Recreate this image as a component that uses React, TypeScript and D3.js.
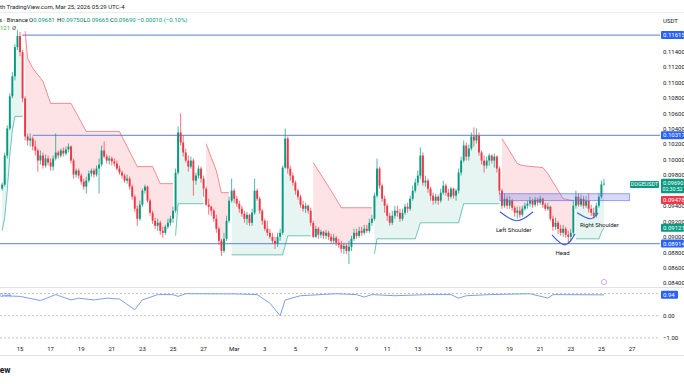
import React from "react";
import * as d3 from "d3";

const W = 684;
const H = 384;
const FONT = "Roboto, 'Noto Sans', 'DejaVu Sans', sans-serif";

// ---------------- data ----------------
// 4h DOGEUSDT candles, prices in 1e-5 USDT
const START_UTC = Date.UTC(2026, 1, 13, 20);
const STEP_MS = 4 * 3600 * 1000;
const OPEN0_E5 = 9626;
const CLOSE_E5 = [
  9678, 10055, 10406, 10822, 11082, 11459, 11602, 11394, 10796, 10302,
  10250, 10276, 10172, 10120, 9990, 10055, 9925, 10016, 9964, 9912,
  10016, 10094, 10055, 10120, 10081, 10133, 10172, 9990, 9808, 9860,
  9795, 9717, 9652, 9730, 9821, 9860, 9808, 9886, 9938, 10120,
  10042, 9990, 10016, 9977, 9951, 9886, 9834, 9795, 9730, 9756,
  9652, 9522, 9366, 9236, 9418, 9600, 9652, 9470, 9314, 9210,
  9145, 9184, 9080, 9054, 9132, 9184, 9236, 9340, 9834, 10354,
  10224, 10094, 9990, 9912, 9990, 9730, 9795, 9886, 9756, 9626,
  9418, 9392, 9340, 9236, 9106, 8950, 8820, 8976, 9210, 9470,
  9600, 9496, 9431, 9366, 9301, 9236, 9288, 9184, 9314, 9600,
  9496, 9340, 9210, 9106, 9054, 9002, 8950, 8911, 9002, 9054,
  9899, 10276, 9886, 9795, 9704, 9600, 9522, 9418, 9366, 9405,
  9340, 9184, 9002, 9106, 9028, 9067, 9015, 9054, 9002, 8950,
  8989, 8924, 8898, 8846, 8885, 8820, 8872, 8976, 9054, 9015,
  9080, 9054, 9106, 9080, 9184, 9236, 9535, 9886, 9665, 9496,
  9405, 9275, 9184, 9275, 9340, 9314, 9236, 9314, 9392, 9366,
  9496, 9600, 9704, 9795, 10055, 9704, 9730, 9626, 9535, 9470,
  9522, 9470, 9574, 9665, 9574, 9522, 9626, 9535, 9600, 9834,
  9990, 10185, 10042, 10146, 10302, 10250, 10315, 10094, 9990, 9925,
  9990, 10055, 9990, 10042, 9886, 9600, 9405, 9496, 9405, 9470,
  9379, 9314, 9340, 9288, 9366, 9405, 9431, 9470, 9418, 9483,
  9444, 9496, 9418, 9366, 9392, 9236, 9132, 9184, 9106, 9054,
  9106, 9028, 9002, 9054, 9405, 9522, 9418, 9496, 9405, 9470,
  9366, 9314, 9275, 9405, 9522, 9681, 9690,
];
const HIGH_E5 = [
  9704, 10094, 10445, 10861, 11134, 11498, 11680, 11654, 11420, 10822,
  10341, 10341, 10302, 10250, 10146, 10120, 10094, 10068, 10055, 10016,
  10055, 10341, 10120, 10146, 10159, 10172, 10211, 10185, 10016, 9886,
  9886, 9821, 9756, 9782, 9860, 9886, 9886, 9925, 10016, 10185,
  10237, 10068, 10055, 10042, 10016, 9990, 9925, 9860, 9821, 9808,
  9782, 9678, 9548, 9405, 9470, 9626, 9678, 9665, 9496, 9340,
  9249, 9236, 9210, 9132, 9158, 9236, 9275, 9392, 9886, 10432,
  10601, 10315, 10146, 10055, 10042, 10016, 9834, 9925, 9912, 9795,
  9652, 9496, 9405, 9366, 9288, 9132, 8976, 9054, 9275, 9522,
  9756, 9626, 9535, 9470, 9405, 9340, 9327, 9301, 9366, 9756,
  9626, 9522, 9366, 9236, 9210, 9106, 9054, 9002, 9054, 9106,
  9925, 10406, 10302, 9925, 9834, 9730, 9626, 9548, 9470, 9444,
  9418, 9379, 9210, 9145, 9132, 9093, 9080, 9093, 9080, 9041,
  9041, 9015, 8976, 8950, 8924, 8911, 8950, 9015, 9106, 9106,
  9132, 9132, 9158, 9158, 9236, 9288, 9574, 10016, 9912, 9691,
  9535, 9431, 9314, 9340, 9405, 9405, 9366, 9366, 9431, 9444,
  9535, 9665, 9756, 9860, 10159, 10094, 9795, 9756, 9652, 9574,
  9561, 9548, 9626, 9730, 9691, 9626, 9652, 9639, 9626, 9886,
  10042, 10250, 10224, 10198, 10354, 10419, 10406, 10354, 10120, 10055,
  10042, 10081, 10068, 10081, 10055, 9912, 9626, 9561, 9535, 9535,
  9496, 9405, 9392, 9392, 9405, 9444, 9470, 9522, 9496, 9522,
  9509, 9535, 9509, 9444, 9444, 9405, 9275, 9249, 9210, 9158,
  9158, 9132, 9080, 9106, 9470, 9600, 9561, 9548, 9535, 9535,
  9561, 9418, 9379, 9444, 9561, 9730, 9750,
];
const LOW_E5 = [
  9600, 9652, 10016, 10380, 10796, 11030, 11420, 11342, 10744, 10250,
  10185, 10172, 10120, 10055, 9847, 9938, 9886, 9899, 9925, 9860,
  9860, 9990, 10016, 10029, 10042, 10055, 10094, 9951, 9756, 9769,
  9756, 9678, 9613, 9561, 9704, 9782, 9769, 9782, 9561, 9912,
  10016, 9951, 9938, 9925, 9912, 9860, 9808, 9756, 9704, 9691,
  9613, 9483, 9327, 9145, 9210, 9392, 9561, 9444, 9275, 9171,
  9106, 9080, 9028, 8989, 9028, 9106, 9145, 9184, 9314, 9808,
  10185, 10042, 9964, 9847, 9886, 9535, 9678, 9756, 9704, 9522,
  9405, 9288, 9275, 9197, 9054, 8898, 8755, 8794, 8950, 9184,
  9444, 9444, 9392, 9314, 9262, 9184, 9158, 9145, 9145, 9288,
  9470, 9301, 9158, 9080, 9015, 8976, 8911, 8846, 8872, 8950,
  9028, 9886, 9821, 9730, 9665, 9548, 9483, 9379, 9327, 9314,
  9301, 9145, 8989, 8989, 8976, 8989, 8976, 8976, 8963, 8911,
  8911, 8885, 8859, 8794, 8781, 8781, 8651, 8820, 8950, 8976,
  8989, 9015, 9028, 9054, 9054, 9145, 9210, 9509, 9626, 9457,
  9314, 9210, 9145, 9158, 9236, 9262, 9197, 9210, 9288, 9314,
  9340, 9470, 9574, 9665, 9756, 9665, 9652, 9574, 9470, 9418,
  9431, 9418, 9444, 9548, 9535, 9470, 9496, 9496, 9470, 9561,
  9795, 9964, 9990, 9990, 10120, 10172, 10211, 10055, 9938, 9834,
  9886, 9925, 9951, 9899, 9834, 9548, 9366, 9379, 9366, 9366,
  9340, 9262, 9236, 9249, 9262, 9340, 9366, 9392, 9379, 9392,
  9405, 9418, 9379, 9340, 9340, 9210, 9080, 9093, 9041, 9015,
  9002, 8989, 8911, 8950, 9015, 9366, 9392, 9392, 9366, 9379,
  9314, 9275, 9236, 9249, 9379, 9496, 9665,
];

// Supertrend (10, 3) read at its break points: candle index -> value (1e-5 USDT)
const ST_DIR = ["up", "down", "up", "down", "up", "down", "up", "down", "up"];
const ST_IDX = [
  [0, 1, 2, 3, 4, 5, 8],
  [9, 10, 12, 16, 19, 27, 33, 46, 53, 59, 62, 67],
  [68, 69, 79],
  [80, 82, 84, 86, 89],
  [90, 110, 112, 121],
  [122, 126, 129, 133, 145],
  [146, 147, 162, 164, 179, 181, 195],
  [196, 202, 204, 212, 214, 220, 224],
  [225, 234, 235, 236],
];
const ST_VAL = [
  [9080, 9249, 9600, 10055, 10380, 10562, 10562],
  [11667, 11316, 11186, 11017, 10731, 10731, 10367, 10367, 9912, 9912, 9691, 9691],
  [9015, 9431, 9431],
  [10211, 10029, 9860, 9574, 9574],
  [8768, 8768, 9015, 9015],
  [9964, 9756, 9600, 9379, 9379],
  [8781, 8976, 8976, 9184, 9184, 9431, 9431],
  [10276, 9951, 9925, 9899, 9821, 9496, 9470],
  [8976, 8976, 9060, 9121],
];

// horizontal levels and where they start (candle index)
const LEVELS = [0.11615, 0.10317, 0.08914];
const LEVEL_START = [7.8, 12, -2];

// neckline zone
const NECK_IDX = [195.2, 246];
const NECK_PRICE = [0.0956, 0.0947];

// head & shoulders arcs
const ARC_IDX = [
  [195.2, 201.9, 208.2],
  [215.6, 220.7, 224.7],
  [225.5, 230.6, 233.7],
];
const ARC_E5 = [
  [9327, 9210, 9327],
  [9028, 8898, 9041],
  [9314, 9236, 9314],
];
const PATTERN_LABELS = ["Left Shoulder", "Head", "Right Shoulder"];
const LABEL_IDX = [200.6, 219.8, 234.2];
const LABEL_PRICE = [0.09093, 0.08794, 0.09158];

// axes
const PRICE_TICKS = [0.084, 0.086, 0.088, 0.09, 0.092, 0.094, 0.096, 0.098, 0.1, 0.102, 0.104, 0.106, 0.108, 0.11, 0.112, 0.114];
const DATE_TICKS = [
  "2026-02-15", "2026-02-17", "2026-02-19", "2026-02-21", "2026-02-23", "2026-02-25", "2026-02-27",
  "2026-03-01", "2026-03-03", "2026-03-05", "2026-03-07", "2026-03-09", "2026-03-11", "2026-03-13",
  "2026-03-15", "2026-03-17", "2026-03-19", "2026-03-21", "2026-03-23", "2026-03-25", "2026-03-27",
];

// right-axis markers
const MARK_PRICE = [0.11615, 0.10317, 0.09478, 0.09121, 0.08914];
const MARK_COLOR = ["#2962ff", "#2962ff", "#f23645", "#089981", "#2962ff"];
const LAST_PRICE = 0.0969;
const COUNTDOWN = "02:30:52";

// lower pane oscillator (candle index, value)
const IND_IDX = [0, 7, 15, 21, 27, 30, 36, 41, 46, 52, 55, 61, 67, 69, 72, 92, 100, 105, 109, 111, 117, 131, 139, 142, 145, 154, 167, 176, 179, 182, 191, 207, 214, 216, 236];
const IND_VAL = [0.9, 0.87, 0.68, 0.95, 0.71, 0.79, 0.71, 0.79, 0.75, 0.27, 0.71, 0.95, 0.95, 0.87, 0.99, 0.98, 0.95, 0.56, 0.0, 0.71, 0.9, 0.99, 0.95, 0.84, 0.95, 0.9, 0.95, 0.95, 0.79, 0.9, 0.95, 0.99, 0.79, 0.95, 0.94];
const IND_LEVELS = [1, 0, -1];

// ---------------- chart ----------------
const UP = "#089981";
const DOWN = "#f23645";

export default function App() {
  const x = d3
    .scaleUtc()
    .domain([new Date(Date.UTC(2026, 1, 15)), new Date(Date.UTC(2026, 2, 27))])
    .range([20, 632]);
  const xi = (i: number) => x(new Date(START_UTC + i * STEP_MS));
  const y = d3.scaleLinear().domain([0.084, 0.114]).range([283.3, 51.7]);
  const yInd = d3.scaleLinear().domain([-1, 1]).range([337.9, 293.5]);

  const candles = CLOSE_E5.map((c, i) => {
    const o = i === 0 ? OPEN0_E5 : CLOSE_E5[i - 1];
    return {
      i,
      o: o / 1e5,
      c: c / 1e5,
      h: Math.max(HIGH_E5[i], o, c) / 1e5,
      l: Math.min(LOW_E5[i], o, c) / 1e5,
    };
  });

  const line = d3.line<[number, number]>();

  const stShapes = ST_IDX.map((idx, s) => {
    const pts: [number, number][] = idx.map((k, j) => [xi(k), y(ST_VAL[s][j] / 1e5)]);
    const mids: [number, number][] = [];
    for (let i = idx[idx.length - 1]; i >= idx[0]; i--) {
      const cd = candles[i];
      mids.push([xi(i), y((cd.o + cd.c) / 2)]);
    }
    return {
      dir: ST_DIR[s],
      line: line(pts) || "",
      fill: (line([...pts, ...mids]) || "") + "Z",
    };
  });

  const arcLine = d3.line<[number, number]>().curve(d3.curveNatural);
  const arcs = ARC_IDX.map(
    (idx, a) => arcLine(idx.map((k, j) => [xi(k), y(ARC_E5[a][j] / 1e5)] as [number, number])) || ""
  );

  const indPath =
    d3
      .line<number>()
      .x((_, j) => xi(IND_IDX[j]))
      .y((v) => yInd(v))(IND_VAL) || "";

  const fmt = d3.format(".5f");
  const axisText = "#131722";
  const fs = 6;
  const PANE_R = 660;
  const yLast = y(LAST_PRICE);
  const lastBox = [yLast - 5, yLast + 9.5];
  // the last-price box covers the tick label underneath it (as on the reference)
  const visibleTicks = PRICE_TICKS.filter((p) => !(y(p) > lastBox[0] - 1 && y(p) < lastBox[1] + 1));

  return (
    <svg
      width={W}
      height={H}
      style={{ position: "fixed", left: 0, top: 0, display: "block", background: "#fff" }}
      fontFamily={FONT}
    >
      <defs>
        <clipPath id="pricePane">
          <rect x={0} y={13} width={PANE_R} height={274} />
        </clipPath>
        <clipPath id="indPane">
          <rect x={0} y={288} width={PANE_R} height={54} />
        </clipPath>
      </defs>
      <rect x={0} y={0} width={W} height={H} fill="#fff" />

      {/* header */}
      <text x={-6} y={9} fontSize={fs} fill={axisText}>
        with TradingView.com, Mar 25, 2026 05:29 UTC-4
      </text>
      <text y={22} fontSize={fs} fill={axisText}>
        <tspan x={-1}>s · Binance</tspan>
        <tspan x={29}>O</tspan>
        <tspan fill={UP}>0.09681</tspan>
        <tspan x={57}>H</tspan>
        <tspan fill={UP}>0.09750</tspan>
        <tspan x={83.5}>L</tspan>
        <tspan fill={UP}>0.09665</tspan>
        <tspan x={110}>C</tspan>
        <tspan fill={UP}>0.09690</tspan>
        <tspan x={137} fill={UP}>−0.00010 (−0.10%)</tspan>
      </text>
      <text x={0} y={30} fontSize={fs} fill="#4caf50">121</text>
      <text x={12} y={30} fontSize={fs} fill="#555">Ø</text>

      <line x1={0} x2={W} y1={12.5} y2={12.5} stroke="#eceef2" />

      {/* price pane */}
      <g clipPath="url(#pricePane)">
        {stShapes.map((s, k) => (
          <path
            key={"f" + k}
            d={s.fill}
            fill={s.dir === "up" ? "rgba(8,153,129,0.10)" : "rgba(242,54,69,0.14)"}
            stroke="none"
          />
        ))}
        {LEVELS.map((p, k) => (
          <line
            key={"lv" + k}
            x1={xi(LEVEL_START[k])}
            x2={PANE_R}
            y1={y(p)}
            y2={y(p)}
            stroke="#7d97e3"
            strokeWidth={1.3}
          />
        ))}
        {stShapes.map((s, k) => (
          <path
            key={"l" + k}
            d={s.line}
            fill="none"
            stroke={s.dir === "up" ? UP : DOWN}
            strokeOpacity={0.55}
            strokeWidth={1}
          />
        ))}
        {candles.map((cd) => {
          const col = cd.c >= cd.o ? UP : DOWN;
          const cx = xi(cd.i);
          const top = y(Math.max(cd.o, cd.c));
          const bot = y(Math.min(cd.o, cd.c));
          return (
            <g key={"c" + cd.i}>
              <line x1={cx} x2={cx} y1={y(cd.h)} y2={y(cd.l)} stroke={col} strokeWidth={0.7} />
              <rect x={cx - 0.95} width={1.9} y={top} height={Math.max(0.7, bot - top)} fill={col} />
            </g>
          );
        })}
        <rect
          x={xi(NECK_IDX[0])}
          width={xi(NECK_IDX[1]) - xi(NECK_IDX[0])}
          y={y(NECK_PRICE[0])}
          height={y(NECK_PRICE[1]) - y(NECK_PRICE[0])}
          fill="rgba(110,120,235,0.28)"
          stroke="rgba(95,105,230,0.75)"
          strokeWidth={0.8}
        />
        {arcs.map((d, k) => (
          <path key={"a" + k} d={d} fill="none" stroke="#3d5bd6" strokeWidth={1.1} />
        ))}
        {PATTERN_LABELS.map((t, k) => (
          <text
            key={"pl" + k}
            x={xi(LABEL_IDX[k])}
            y={y(LABEL_PRICE[k])}
            dy="0.35em"
            fontSize={fs}
            textAnchor="middle"
            fill={axisText}
          >
            {t}
          </text>
        ))}
      </g>

      {/* DOGEUSDT tag */}
      <rect x={630} y={181} width={29} height={7} fill={UP} rx={1} />
      <text x={644.5} y={184.5} dy="0.35em" fontSize={5.4} fill="#fff" textAnchor="middle">
        DOGEUSDT
      </text>

      {/* price axis */}
      <text x={663} y={21} dy="0.35em" fontSize={fs} fill={axisText}>USDT</text>
      {visibleTicks.map((p, k) => (
        <text key={"pt" + k} x={663} y={y(p)} dy="0.35em" fontSize={fs} fill={axisText}>
          {fmt(p)}
        </text>
      ))}
      {MARK_PRICE.map((p, k) => (
        <g key={"mk" + k}>
          <rect x={661} y={y(p) - 4} width={23} height={8} fill={MARK_COLOR[k]} rx={1} />
          <text x={663} y={y(p)} dy="0.35em" fontSize={fs} fill="#fff">
            {fmt(p)}
          </text>
        </g>
      ))}
      <rect x={661} y={lastBox[0]} width={23} height={lastBox[1] - lastBox[0]} fill={UP} rx={1} />
      <text x={663} y={yLast - 1} dy="0.35em" fontSize={5.6} fill="#fff">
        {fmt(LAST_PRICE)}
      </text>
      <text x={662.5} y={yLast + 5.3} dy="0.35em" fontSize={5.2} fill="#fff">
        {COUNTDOWN}
      </text>

      {/* indicator pane */}
      <line x1={0} x2={W} y1={287.5} y2={287.5} stroke="#e0e3eb" />
      {IND_LEVELS.map((v, k) => (
        <line
          key={"il" + k}
          x1={0}
          x2={PANE_R}
          y1={yInd(v)}
          y2={yInd(v)}
          stroke="#b2b5be"
          strokeWidth={0.8}
          strokeDasharray="2 2"
        />
      ))}
      <g clipPath="url(#indPane)">
        <path d={indPath} fill="none" stroke="#7f9fe6" strokeWidth={1} />
      </g>
      <text x={0} y={297} fontSize={5.5} fill="#5b8def">0.94</text>
      <circle cx={604} cy={282} r={2.6} fill="none" stroke="#c98bd6" strokeWidth={0.7} />
      {IND_LEVELS.slice(1).map((v, k) => (
        <text key={"ilt" + k} x={663} y={yInd(v)} dy="0.35em" fontSize={fs} fill={axisText}>
          {v.toFixed(2).replace("-", "−")}
        </text>
      ))}
      <rect x={661} y={yInd(IND_VAL[IND_VAL.length - 1]) - 4} width={17} height={8} fill="#2962ff" rx={1} />
      <text x={663} y={yInd(IND_VAL[IND_VAL.length - 1])} dy="0.35em" fontSize={fs} fill="#fff">
        {IND_VAL[IND_VAL.length - 1].toFixed(2)}
      </text>

      {/* time axis */}
      {DATE_TICKS.map((s) => {
        const d = new Date(s + "T00:00:00Z");
        const label = d.getUTCDate() === 1 ? d3.utcFormat("%b")(d) : String(d.getUTCDate());
        return (
          <text key={s} x={x(d)} y={349} dy="0.35em" fontSize={fs} fill={axisText} textAnchor="middle">
            {label}
          </text>
        );
      })}
      <line x1={0} x2={W} y1={355.5} y2={355.5} stroke="#e0e3eb" />

      {/* logo */}
      <text x={10.5} y={373} fontSize={8.5} fontWeight="bold" fill="#131722" textAnchor="end">
        TradingView
      </text>
    </svg>
  );
}
